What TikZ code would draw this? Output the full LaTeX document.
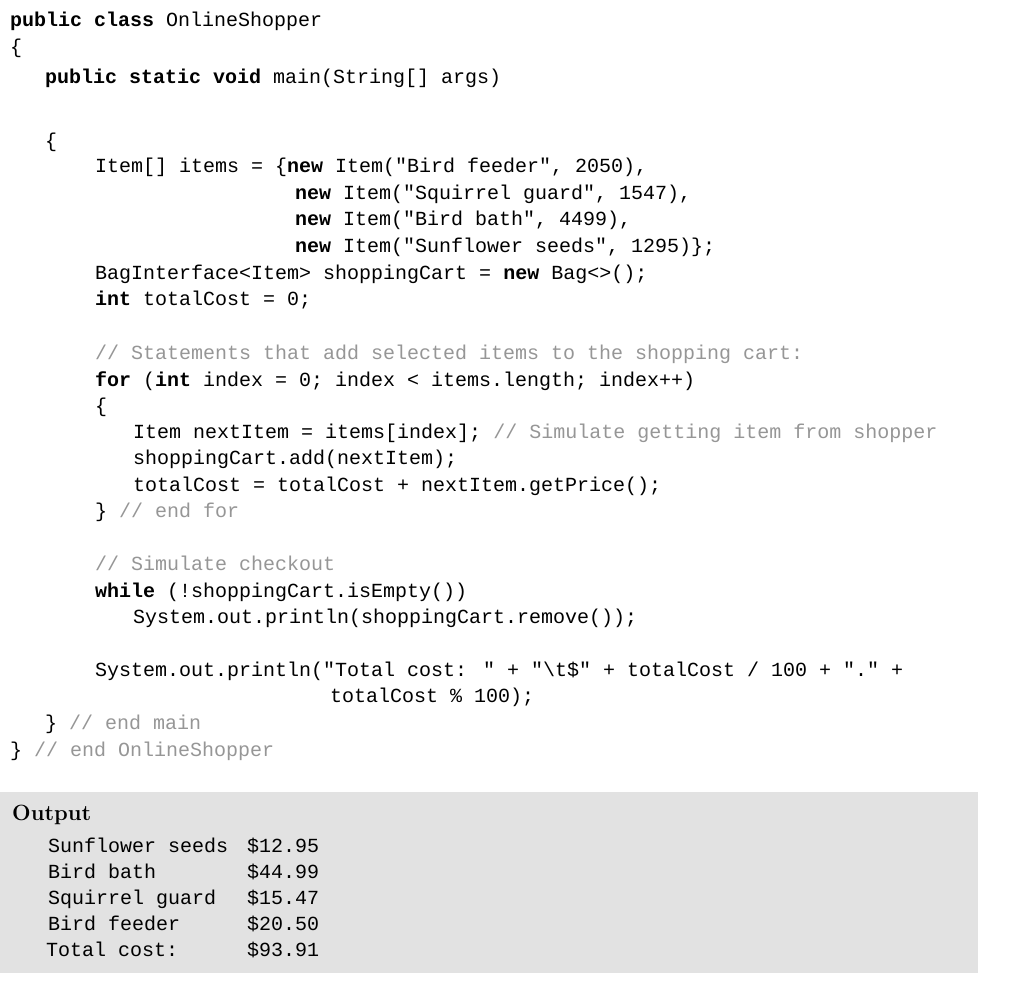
\documentclass[tikz,border=0pt]{standalone}
\usepackage{fontspec}
\newfontfamily\codefont{Liberation Mono}
\definecolor{cmt}{RGB}{150,150,150}
\definecolor{outbg}{RGB}{226,226,226}
\newcommand{\kw}[1]{\textbf{#1}}
\newcommand{\cm}[1]{\textcolor{cmt}{#1}}
\tikzset{ln/.style={anchor=base west,inner sep=0pt,font=\codefont\fontsize{20}{24}\selectfont}}
\begin{document}
\begin{tikzpicture}[x=1pt,y=-1pt]
\useasboundingbox (0,0) rectangle (1024,1006);
\fill[outbg] (0,792) rectangle (978,973);
\node[ln] (l1) at (10,27) {\kw{public class} OnlineShopper};
\node[ln] (l2) at (10,54) {\{};
\node[ln] (l3) at (45,84) {\kw{public static void} main(String[] args)};
\node[ln] (l4) at (45,147) {\{};
\node[ln] (l5) at (95,172) {Item[] items = \{\kw{new} Item("Bird feeder", 2050),};
\node[ln] (l6) at (295,199) {\kw{new} Item("Squirrel guard", 1547),};
\node[ln] (l7) at (295,225) {\kw{new} Item("Bird bath", 4499),};
\node[ln] (l8) at (295,252) {\kw{new} Item("Sunflower seeds", 1295)\};};
\node[ln] (l9) at (95,279) {BagInterface<Item> shoppingCart = \kw{new} Bag<>();};
\node[ln] (l10) at (95,305) {\kw{int} totalCost = 0;};
\node[ln] (l11) at (95,359) {\cm{// Statements that add selected items to the shopping cart:}};
\node[ln] (l12) at (95,386) {\kw{for} (\kw{int} index = 0; index < items.length; index++)};
\node[ln] (l13) at (95,412) {\{};
\node[ln] (l14) at (133,438) {Item nextItem = items[index]; \cm{// Simulate getting item from shopper}};
\node[ln] (l15) at (133,464) {shoppingCart.add(nextItem);};
\node[ln] (l16) at (133,491) {totalCost = totalCost + nextItem.getPrice();};
\node[ln] (l17) at (95,517) {\} \cm{// end for}};
\node[ln] (l18) at (95,570) {\cm{// Simulate checkout}};
\node[ln] (l19) at (95,597) {\kw{while} (!shoppingCart.isEmpty())};
\node[ln] (l20) at (133,623) {System.out.println(shoppingCart.remove());};
\node[ln] (l21) at (95,676) {System.out.println("Total cost: " + "\textbackslash t\$" + totalCost / 100 + "." +};
\node[ln] (l22) at (330,702) {totalCost \% 100);};
\node[ln] (l23) at (45,729) {\} \cm{// end main}};
\node[ln] (l24) at (10,756) {\} \cm{// end OnlineShopper}};
\node[anchor=base west,inner sep=0pt,font=\fontsize{22}{26}\selectfont\bfseries] (out) at (12,820) {Output};
\node[ln] (o1) at (48,852) {Sunflower seeds};
\node[ln] (o2) at (48,878) {Bird bath};
\node[ln] (o3) at (48,904) {Squirrel guard};
\node[ln] (o4) at (48,930) {Bird feeder};
\node[ln] (o5) at (46,956) {Total cost:};
\node[ln] (p1) at (247,852) {\$12.95};
\node[ln] (p2) at (247,878) {\$44.99};
\node[ln] (p3) at (247,904) {\$15.47};
\node[ln] (p4) at (247,930) {\$20.50};
\node[ln] (p5) at (247,956) {\$93.91};
\end{tikzpicture}
\end{document}
